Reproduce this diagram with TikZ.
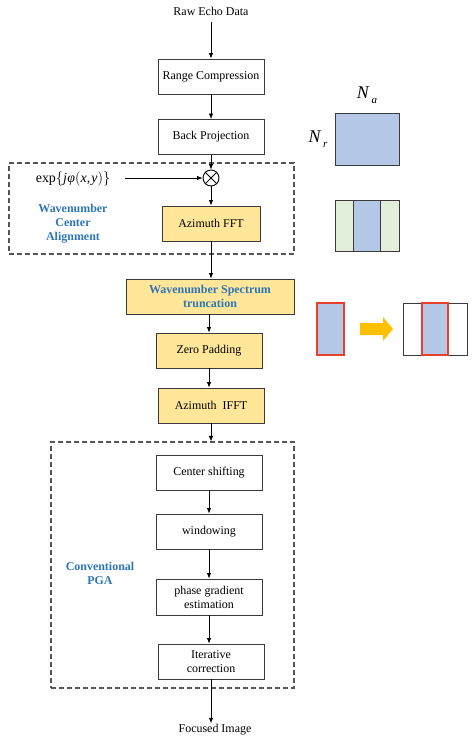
\documentclass[tikz,border=0pt]{standalone}
\usepackage{fontspec}
\setmainfont{Liberation Serif}
\usetikzlibrary{arrows.meta}
\definecolor{boxc}{HTML}{3A3A3A}
\definecolor{dashc}{HTML}{555555}
\definecolor{yel}{HTML}{FFE699}
\definecolor{tblue}{HTML}{2E75B6}
\definecolor{mblue}{HTML}{B4C7E7}
\definecolor{mgreen}{HTML}{E2EFDA}
\definecolor{mred}{HTML}{E8402A}
\definecolor{arrowy}{HTML}{FFC000}
\tikzset{
  txt/.style={font=\fontsize{12}{14}\selectfont, align=center, inner sep=1bp},
  procbox/.style={txt, draw=boxc, line width=0.9bp, minimum height=35bp, inner sep=0pt},
  yelbox/.style={procbox, fill=yel},
  bluetxt/.style={txt, text=tblue, font=\fontsize{12}{14}\selectfont\bfseries},
  flow/.style={line width=0.8bp, draw=black, -{Latex[length=5.5bp,width=4.5bp]}},
  dashbox/.style={draw=dashc, line width=1.1bp, dash pattern=on 5bp off 3bp, inner sep=0pt},
  mat/.style={draw=boxc, line width=0.9bp},
  redmat/.style={draw=mred, line width=1.5bp, fill=mblue}
}
\begin{document}
\begin{tikzpicture}[x=1bp,y=-1bp]
\useasboundingbox (0,0) rectangle (474,742);

% main flow
\node[txt] (raw) at (211,11) {Raw Echo Data};
\node[procbox, minimum width=106bp] (rc) at (211,76.5) {Range Compression};
\node[procbox, minimum width=106bp] (bp) at (211,137) {Back Projection};
\node[draw=black, line width=0.9bp, circle, minimum size=16bp, inner sep=0pt] (mul) at (211,178) {};
\draw[line width=0.9bp] (mul.north west) -- (mul.south east);
\draw[line width=0.9bp] (mul.north east) -- (mul.south west);
\node[yelbox, minimum width=98bp] (fft) at (211,223.5) {Azimuth FFT};
\node[yelbox, minimum width=168bp, text=tblue, font=\fontsize{12}{14}\selectfont\bfseries] (wn) at (210,296.5) {Wavenumber Spectrum\\truncation};
\node[yelbox, minimum width=106bp] (zp) at (209,350.5) {Zero Padding};
\node[yelbox, minimum width=106bp] (ifft) at (211,405.5) {Azimuth\ \ IFFT};
\node[procbox, minimum width=106bp] (cs) at (209,472.5) {Center shifting};
\node[procbox, minimum width=106bp] (win) at (209,531.5) {windowing};
\node[procbox, minimum width=106bp, minimum height=36bp] (pge) at (209,597) {phase gradient\\estimation};
\node[procbox, minimum width=106bp] (ic) at (211,661.5) {Iterative\\correction};
\node[txt] (foc) at (215,730) {Focused Image};

% dashed groups
\node[dashbox, minimum width=285bp, minimum height=91bp] (wca) at (151.5,208.5) {};
\node[dashbox, minimum width=243bp, minimum height=246bp] (pga) at (172.5,565) {};

% side labels
\node[txt, font=\fontsize{14}{16}\selectfont] (phase) at (73,179) {exp$\Bigl\{$\textit{j}\kern0.5bp\textit{φ}$\Bigl($\textit{x},\kern1bp\textit{y}$\Bigr)\Bigr\}$};
\coordinate (phaseend) at (125,178);
\node[bluetxt] (wcal) at (73,224) {Wavenumber\\Center\\Alignment};
\node[bluetxt] (pgal) at (100,573) {Conventional\\PGA};

% connectors
\draw[flow] (raw.south |- 0,22) -- (rc.north);
\draw[flow] (rc.south) -- (rc.south |- bp.north);
\draw[flow] (bp.south) -- (mul.north);
\draw[flow] (phaseend) -- (mul.west);
\draw[flow] (mul.south) -- (fft.north);
\draw[flow] (fft.south) -- (fft.south |- wn.north);
\draw[flow] (wn.south -| zp.north) -- (zp.north);
\draw[flow] (zp.south) -- (zp.south |- ifft.north);
\draw[flow] (ifft.south) -- (ifft.south |- pga.north);
\draw[flow] (cs.south) -- (cs.south |- win.north);
\draw[flow] (win.south) -- (win.south |- pge.north);
\draw[flow] (pge.south) -- (pge.south |- ic.north);
\draw[flow] (ic.south) -- (ic.south |- foc.north);

% matrices on the right
\node[txt, font=\fontsize{18}{20}\selectfont] (na) at (367,95) {\textit{N}\raisebox{-5bp}{\fontsize{11}{12}\selectfont\,\textit{a}}};
\node[txt, font=\fontsize{18}{20}\selectfont] (nr) at (318,139) {\textit{N}\raisebox{-5bp}{\fontsize{11}{12}\selectfont\,\textit{r}}};
\draw[mat, fill=mblue] (335,113) rectangle (399,165);

\fill[mgreen] (335,200) rectangle (399,251);
\fill[mblue] (353,200) rectangle (380,251);
\draw[mat] (335,200) rectangle (399,251);
\draw[mat] (353,200) -- (353,251);
\draw[mat] (380,200) -- (380,251);

\draw[redmat] (317,303) rectangle (344,355);
\fill[arrowy] (360,323) -- (383,323) -- (383,317) -- (393,329) -- (383,341) -- (383,335) -- (360,335) -- cycle;
\draw[mat] (403,303) rectangle (467,355);
\draw[redmat] (422,303) rectangle (448,355);
\end{tikzpicture}
\end{document}
